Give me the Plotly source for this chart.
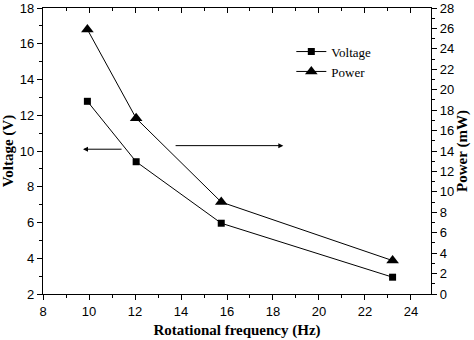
import plotly.graph_objects as go

freq = [9.93, 12.05, 15.75, 23.2]
voltage = [12.78, 9.4, 5.96, 2.94]
power = [25.9, 17.2, 9.0, 3.27]

x_title = "Rotational frequency (Hz)"
y1_title = "Voltage (V)"
y2_title = "Power (mW)"

serif = "Liberation Serif, Times New Roman, serif"
sans = "Liberation Sans, Arial, sans-serif"

fig = go.Figure()
fig.add_trace(go.Scatter(x=freq, y=voltage, name="Voltage", mode="lines+markers",
                         line=dict(color="black", width=1),
                         marker=dict(symbol="square", size=7, color="black")))
fig.add_trace(go.Scatter(x=freq, y=power, name="Power", mode="lines+markers",
                         yaxis="y2",
                         line=dict(color="black", width=1),
                         marker=dict(symbol="triangle-up", size=11, color="black")))

axis_common = dict(showgrid=False, zeroline=False, showline=True, linecolor="black",
                   linewidth=1.3, ticks="outside", tickcolor="black", ticklen=5,
                   ticklabeloverflow="allow", automargin=False,
                   tickfont=dict(family=sans, size=13, color="black"))

fig.update_layout(
    width=474, height=340,
    margin=dict(l=43, r=43, t=8, b=46),
    plot_bgcolor="white", paper_bgcolor="white",
    xaxis=dict(range=[8, 24.87], dtick=2, tick0=8,
               minor=dict(ticks="outside", dtick=1, ticklen=3, tickcolor="black"),
               title=dict(text="<b>" + x_title + "</b>", font=dict(family=serif, size=15, color="black"), standoff=6),
               **axis_common),
    xaxis2=dict(range=[8, 24.87], overlaying="x", side="top", showgrid=False, zeroline=False,
                showline=True, linecolor="black", linewidth=1.3, ticks="inside", ticklen=5,
                tickcolor="black", dtick=2, tick0=8, showticklabels=False, automargin=False,
                minor=dict(ticks="inside", dtick=1, ticklen=3, tickcolor="black")),
    yaxis=dict(range=[2, 18], dtick=2, tick0=2,
               minor=dict(ticks="outside", dtick=1, ticklen=3, tickcolor="black"),
               title=dict(text="<b>" + y1_title + "</b>", font=dict(family=serif, size=15, color="black"), standoff=4),
               **axis_common),
    yaxis2=dict(range=[0, 28], dtick=2, tick0=0, overlaying="y", side="right",
                minor=dict(ticks="outside", dtick=1, ticklen=3, tickcolor="black"),
                title=dict(text="<b>" + y2_title + "</b>", font=dict(family=serif, size=15, color="black"), standoff=1),
                **axis_common),
    legend=dict(x=0.64, y=0.9, xanchor="left", yanchor="top", bgcolor="rgba(0,0,0,0)",
                font=dict(family=serif, size=13, color="black"), itemwidth=30, tracegroupgap=4),
    showlegend=True,
)

# invisible trace to activate top axis
fig.add_trace(go.Scatter(x=[8], y=[2], xaxis="x2", mode="markers", marker=dict(opacity=0),
                         showlegend=False, hoverinfo="skip"))

fig.add_annotation(x=9.74, y=10.1, ax=11.48, ay=10.1, xref="x", yref="y", axref="x", ayref="y",
                   showarrow=True, arrowhead=2, arrowsize=1, arrowwidth=1, arrowcolor="black", text="")
fig.add_annotation(x=18.45, y=10.3, ax=13.7, ay=10.3, xref="x", yref="y", axref="x", ayref="y",
                   showarrow=True, arrowhead=2, arrowsize=1, arrowwidth=1, arrowcolor="black", text="")

fig.write_html("out.html")
